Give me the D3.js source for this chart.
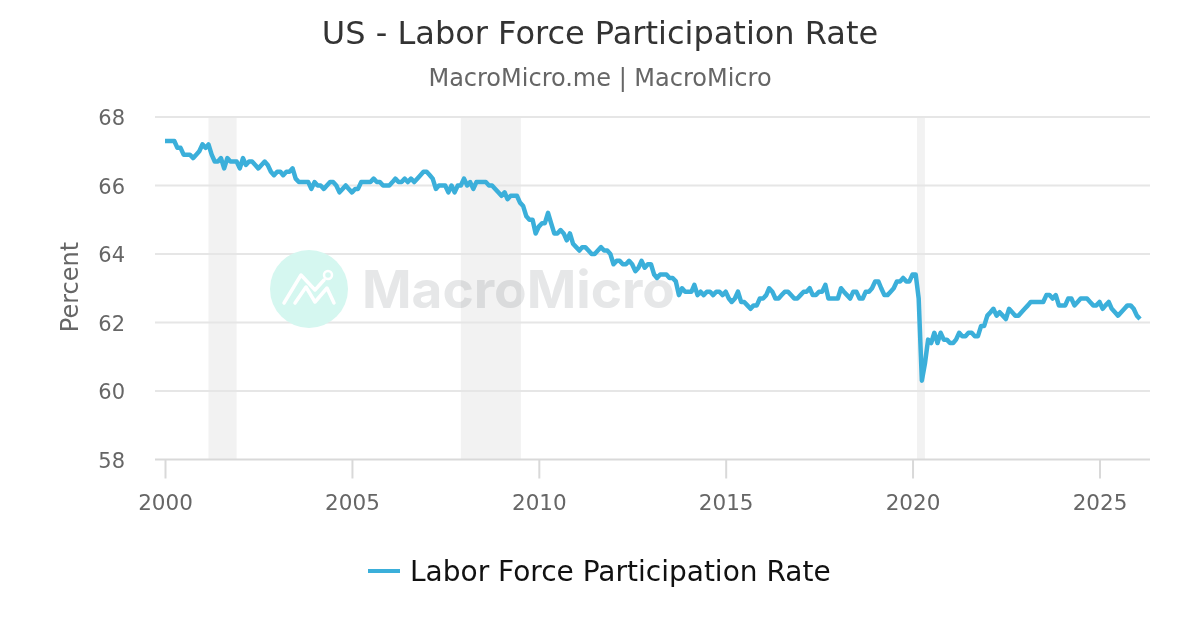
<!DOCTYPE html>
<html>
<head>
<meta charset="utf-8">
<script src="https://cdn.jsdelivr.net/npm/d3@7/dist/d3.min.js"></script>
<style>
  html, body { margin: 0; padding: 0; background: #fff; }
  svg { display: block; }
  text { font-family: "DejaVu Sans", sans-serif; }
</style>
</head>
<body>
<svg id="chart" width="1200" height="630"></svg>
<script>
// Monthly labour force participation rate, percent, starting January 2000.
const firstMonth = [2000, 0];
const rate2000s = [
  67.3,67.3,67.3,67.3,67.1,67.1,66.9,66.9,66.9,66.8,66.9,67.0,
  67.2,67.1,67.2,66.9,66.7,66.7,66.8,66.5,66.8,66.7,66.7,66.7,
  66.5,66.8,66.6,66.7,66.7,66.6,66.5,66.6,66.7,66.6,66.4,66.3,
  66.4,66.4,66.3,66.4,66.4,66.5,66.2,66.1,66.1,66.1,66.1,65.9,
  66.1,66.0,66.0,65.9,66.0,66.1,66.1,66.0,65.8,65.9,66.0,65.9,
  65.8,65.9,65.9,66.1,66.1,66.1,66.1,66.2,66.1,66.1,66.0,66.0,
  66.0,66.1,66.2,66.1,66.1,66.2,66.1,66.2,66.1,66.2,66.3,66.4,
  66.4,66.3,66.2,65.9,66.0,66.0,66.0,65.8,66.0,65.8,66.0,66.0,
  66.2,66.0,66.1,65.9,66.1,66.1,66.1,66.1,66.0,66.0,65.9,65.8,
  65.7,65.8,65.6,65.7,65.7,65.7,65.5,65.4,65.1,65.0,65.0,64.6
];
const rate2010s = [
  64.8,64.9,64.9,65.2,64.9,64.6,64.6,64.7,64.6,64.4,64.6,64.3,
  64.2,64.1,64.2,64.2,64.1,64.0,64.0,64.1,64.2,64.1,64.1,64.0,
  63.7,63.8,63.8,63.7,63.7,63.8,63.7,63.5,63.6,63.8,63.6,63.7,
  63.7,63.4,63.3,63.4,63.4,63.4,63.3,63.3,63.2,62.8,63.0,62.9,
  62.9,62.9,63.1,62.8,62.9,62.8,62.9,62.9,62.8,62.9,62.9,62.8,
  62.9,62.7,62.6,62.7,62.9,62.6,62.6,62.5,62.4,62.5,62.5,62.7,
  62.7,62.8,63.0,62.9,62.7,62.7,62.8,62.9,62.9,62.8,62.7,62.7,
  62.8,62.9,62.9,63.0,62.8,62.8,62.9,62.9,63.1,62.7,62.7,62.7,
  62.7,63.0,62.9,62.8,62.7,62.9,62.9,62.7,62.7,62.9,62.9,63.0,
  63.2,63.2,63.0,62.8,62.8,62.9,63.0,63.2,63.2,63.3,63.2,63.2
];
const rate2020s = [
  63.4,63.4,62.7,60.3,60.8,61.5,61.4,61.7,61.4,61.7,61.5,61.5,
  61.4,61.4,61.5,61.7,61.6,61.6,61.7,61.7,61.6,61.6,61.9,61.9,
  62.2,62.3,62.4,62.2,62.3,62.2,62.1,62.4,62.3,62.2,62.2,62.3,
  62.4,62.5,62.6,62.6,62.6,62.6,62.6,62.8,62.8,62.7,62.8,62.5,
  62.5,62.5,62.7,62.7,62.5,62.6,62.7,62.7,62.7,62.6,62.5,62.5,
  62.6,62.4,62.5,62.6,62.4,62.3,62.2,62.3,62.4,62.5,62.5,62.4,
  62.2,62.1
];
// Recession spans as [year, month, day] pairs
const recessions = [
  [[2001, 2, 1], [2001, 11, 1]],
  [[2007, 11, 1], [2009, 6, 10]],
  [[2020, 1, 14], [2020, 4, 1]]
];
const yTicks = [58, 60, 62, 64, 66, 68];
const xTickYears = [2000, 2005, 2010, 2015, 2020, 2025];
const titleText = "US - Labor Force Participation Rate";
const subtitleText = "MacroMicro.me | MacroMicro";
const yAxisLabel = "Percent";
const seriesName = "Labor Force Participation Rate";
const watermarkText = "MacroMicro";

const seriesColor = "#3bafda";
const gridColor = "#e6e6e6";
const axisColor = "#d9d9d9";
const bandColor = "#f2f2f2";
const tickTextColor = "#666666";

const plot = { left: 155, right: 1150, top: 117, bottom: 459.5 };
const svg = d3.select("#chart");
const utc = (y, m, d = 1) => new Date(Date.UTC(y, m, d));

const rates = [...rate2000s, ...rate2010s, ...rate2020s];
const points = rates.map((v, i) => ({ date: utc(firstMonth[0], firstMonth[1] + i), value: v }));

// The time axis is anchored on the 2000 and 2025 ticks.
const x = d3.scaleUtc().domain([utc(2000, 0), utc(2025, 0)]).range([165, 1099.5]);
const y = d3.scaleLinear().domain([58, 68]).range([plot.bottom, plot.top]);

// Recession shading
svg.append("g").selectAll("rect").data(recessions).join("rect")
  .attr("x", d => x(utc(...d[0])))
  .attr("width", d => x(utc(...d[1])) - x(utc(...d[0])))
  .attr("y", plot.top)
  .attr("height", plot.bottom - plot.top)
  .attr("fill", bandColor);

// Horizontal grid
svg.append("g").selectAll("line").data(yTicks.filter(t => t !== 58)).join("line")
  .attr("x1", plot.left).attr("x2", plot.right)
  .attr("y1", d => y(d)).attr("y2", d => y(d))
  .attr("stroke", gridColor).attr("stroke-width", 2);

// Faint brand mark behind the series
const mark = svg.append("g");
mark.append("circle").attr("cx", 309).attr("cy", 289).attr("r", 39).attr("fill", "#d5f7f0");
mark.append("path")
  .attr("d", "M284,303 L301,275 L315,290 L324,280")
  .attr("fill", "none").attr("stroke", "#fff").attr("stroke-width", 3.5).attr("stroke-linecap", "round").attr("stroke-linejoin", "round");
mark.append("path")
  .attr("d", "M295,303 L306,287 L315,302 L327,288 L334,303")
  .attr("fill", "none").attr("stroke", "#fff").attr("stroke-width", 3.5).attr("stroke-linecap", "round").attr("stroke-linejoin", "round");
mark.append("circle").attr("cx", 328).attr("cy", 275).attr("r", 4)
  .attr("fill", "none").attr("stroke", "#fff").attr("stroke-width", 2.5);
mark.append("text")
  .attr("x", 362).attr("y", 308)
  .attr("font-size", 52).attr("font-weight", 700)
  .attr("fill", "#e6e7e8")
  .style("font-family", "Inter, sans-serif")
  .style("mix-blend-mode", "multiply")
  .attr("textLength", 313).attr("lengthAdjust", "spacingAndGlyphs")
  .text(watermarkText);

// Axes
const yAxis = d3.axisLeft(y).tickValues(yTicks).tickSize(0).tickPadding(0).tickFormat(d3.format("d"));
const yG = svg.append("g").attr("transform", `translate(125,0)`).call(yAxis);
yG.select(".domain").remove();
yG.selectAll("text").attr("font-size", 21).attr("fill", tickTextColor).attr("dy", "0.38em")
  .style("font-family", "'DejaVu Sans', sans-serif");

const xAxis = d3.axisBottom(x).tickValues(xTickYears.map(t => utc(t, 0)))
  .tickSize(19).tickPadding(16).tickFormat(d3.utcFormat("%Y"));
const xG = svg.append("g").attr("transform", `translate(0,${plot.bottom})`).call(xAxis);
xG.select(".domain").remove();
xG.selectAll("line").attr("stroke", axisColor).attr("stroke-width", 2);
xG.selectAll("text").attr("font-size", 21.5).attr("fill", tickTextColor)
  .style("font-family", "'DejaVu Sans', sans-serif");
svg.append("line")
  .attr("x1", plot.left).attr("x2", plot.right)
  .attr("y1", plot.bottom).attr("y2", plot.bottom)
  .attr("stroke", axisColor).attr("stroke-width", 2);

// Series line
const line = d3.line().x(d => x(d.date)).y(d => y(d.value));
svg.append("path").datum(points)
  .attr("d", line)
  .attr("fill", "none").attr("stroke", seriesColor)
  .attr("stroke-width", 4.5).attr("stroke-linejoin", "round").attr("stroke-linecap", "butt");

// Headings
svg.append("text").attr("x", 600).attr("y", 44).attr("text-anchor", "middle")
  .attr("font-size", 32).attr("fill", "#333333").text(titleText);
svg.append("text").attr("x", 600).attr("y", 86).attr("text-anchor", "middle")
  .attr("font-size", 24).attr("fill", tickTextColor).text(subtitleText);
svg.append("text")
  .attr("transform", "translate(78,287) rotate(-90)")
  .attr("text-anchor", "middle")
  .attr("font-size", 24).attr("fill", tickTextColor).text(yAxisLabel);

// Legend
svg.append("line").attr("x1", 368).attr("x2", 400).attr("y1", 571).attr("y2", 571)
  .attr("stroke", seriesColor).attr("stroke-width", 4);
svg.append("text").attr("x", 410).attr("y", 580.5)
  .attr("font-size", 28).attr("fill", "#111111").text(seriesName);
</script>
</body>
</html>
